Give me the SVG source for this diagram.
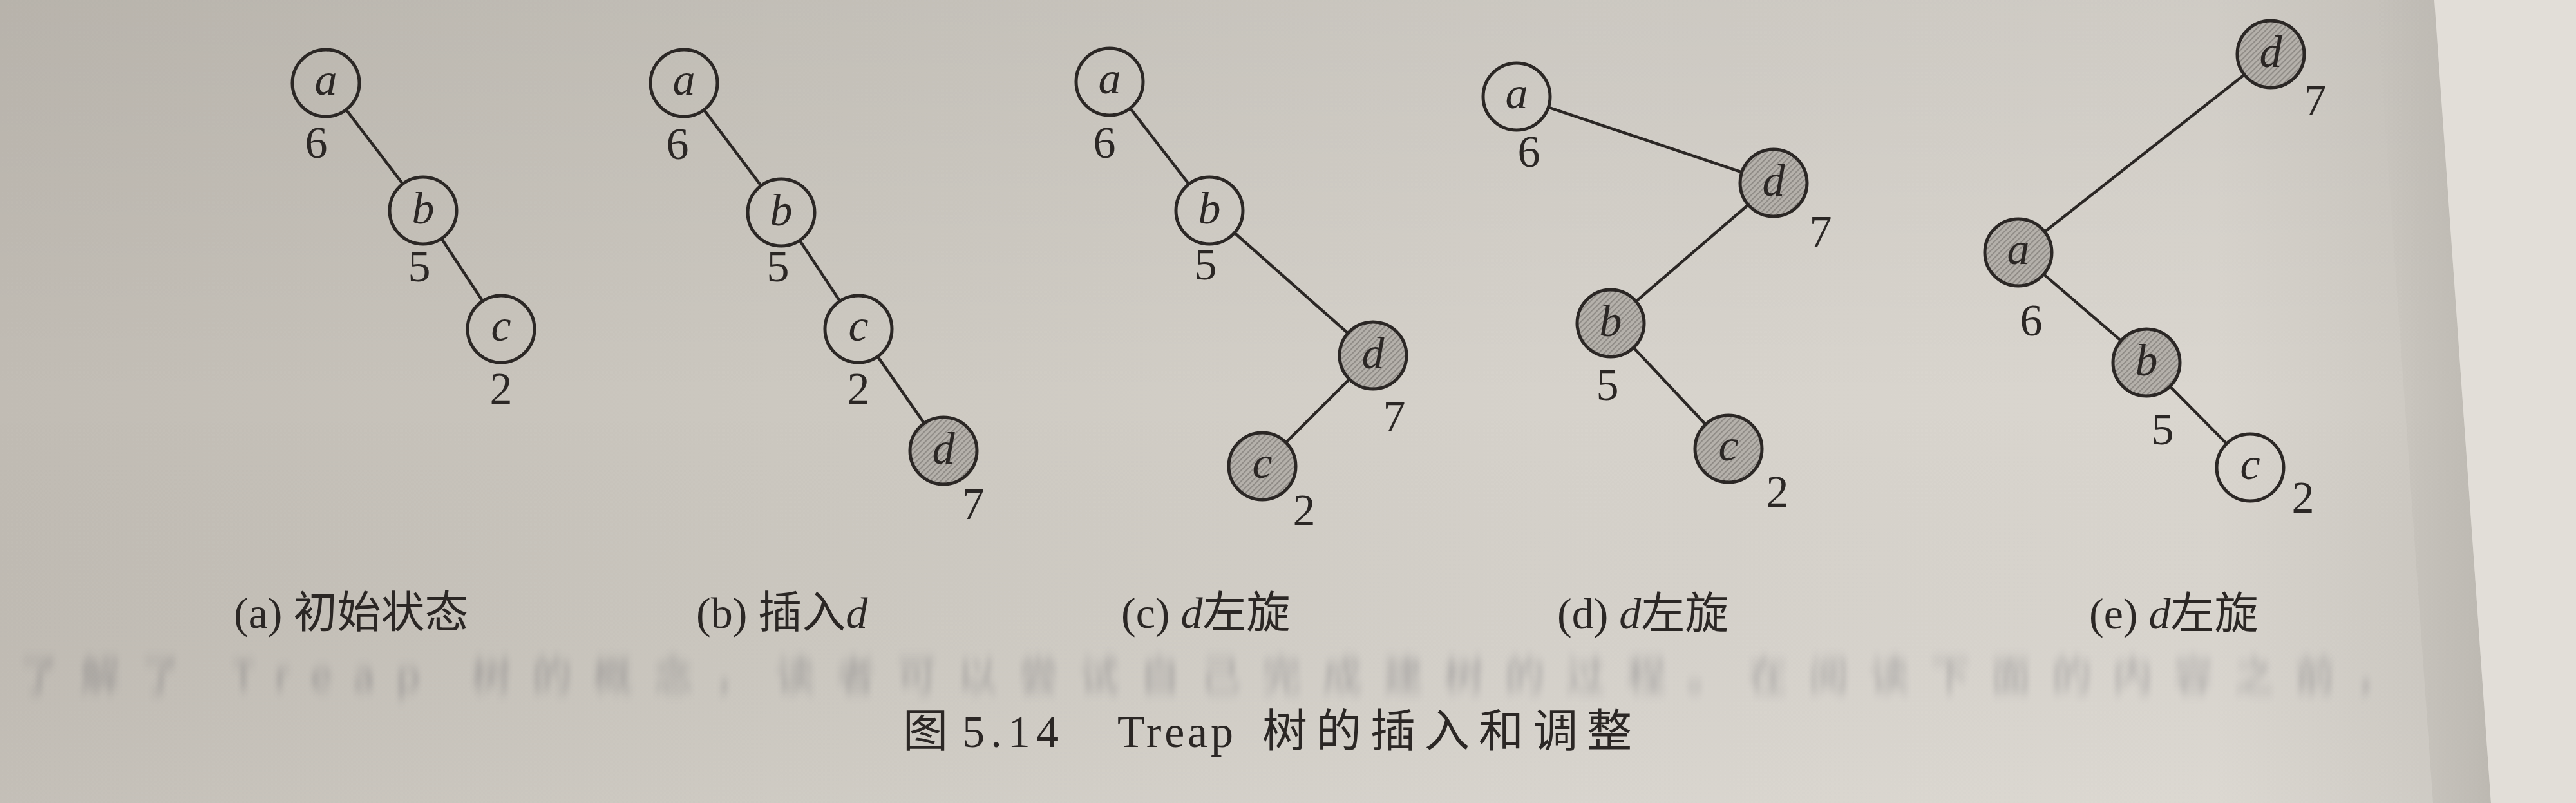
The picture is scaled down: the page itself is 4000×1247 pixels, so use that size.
<svg xmlns="http://www.w3.org/2000/svg" width="4000" height="1247" viewBox="0 0 4000 1247">
<defs>
  <linearGradient id="paper" x1="0" y1="0" x2="1" y2="0">
    <stop offset="0" stop-color="#c1bcb4"/>
    <stop offset="0.3" stop-color="#ccc8c0"/>
    <stop offset="0.6" stop-color="#d6d2cb"/>
    <stop offset="0.86" stop-color="#dad6cf"/>
    <stop offset="0.94" stop-color="#cdc9c2"/>
  </linearGradient>
  <linearGradient id="vshade" x1="0" y1="0" x2="0" y2="1">
    <stop offset="0" stop-color="#000" stop-opacity="0.05"/>
    <stop offset="0.5" stop-color="#000" stop-opacity="0"/>
    <stop offset="1" stop-color="#fff" stop-opacity="0.05"/>
  </linearGradient>
  <linearGradient id="edgeShade" x1="0" y1="0" x2="1" y2="0">
    <stop offset="0" stop-color="#b8b4ad" stop-opacity="0"/>
    <stop offset="1" stop-color="#b8b4ad" stop-opacity="0.8"/>
  </linearGradient>
  <pattern id="hatch" width="6" height="6" patternUnits="userSpaceOnUse" patternTransform="rotate(45)">
    <rect width="6" height="6" fill="#b5b1ab"/>
    <line x1="1" y1="0" x2="1" y2="6" stroke="#908c87" stroke-width="2.2"/>
  </pattern>
  <filter id="blur" x="-5%" y="-50%" width="110%" height="200%">
    <feGaussianBlur stdDeviation="4 9"/>
  </filter>
</defs>
<style>
  .n circle{stroke:#2b2725;stroke-width:5;fill:none}
  .n.s circle{fill:url(#hatch)}
  .lt{font-family:"Liberation Serif",serif;font-style:italic;font-size:70px;fill:#2b2725;text-anchor:middle}
  .pr{font-family:"Liberation Serif",serif;font-size:70px;fill:#2b2725;text-anchor:middle}
  #edges line{stroke:#2b2725;stroke-width:4.5}
  .cap{font-family:"Liberation Serif","Noto Sans CJK SC",sans-serif;font-size:68px;fill:#2b2725}
  .main{font-family:"Liberation Serif","Noto Sans CJK SC",sans-serif;font-size:70px;fill:#2b2725}
  .it{font-style:italic}
</style>

<!-- paper -->
<rect width="4000" height="1247" fill="url(#paper)"/>
<rect width="4000" height="1247" fill="url(#vshade)"/>
<polygon points="3690,0 3780,0 3868,1247 3778,1247" fill="url(#edgeShade)"/>
<polygon points="3780,0 4000,0 4000,1247 3868,1247" fill="#e2ded8"/>

<!-- faint blurred body text line -->
<text x="30" y="1072" font-family="'Noto Sans CJK SC',sans-serif" font-size="62" fill="#4a4953" opacity="0.3" filter="url(#blur)" textLength="3690" lengthAdjust="spacing">了解了 Treap 树的概念，读者可以尝试自己完成建树的过程。在阅读下面的内容之前，</text>

<g id="edges">
  <!-- panel a -->
  <line x1="537.5" y1="170.4" x2="625.5" y2="285.6"/>
  <line x1="685.6" y1="370.5" x2="749.4" y2="467.5"/>
  <!-- panel b -->
  <line x1="1093.2" y1="170.6" x2="1181.8" y2="288.4"/>
  <line x1="1241.7" y1="373.3" x2="1304.3" y2="467.7"/>
  <line x1="1362.8" y1="553.6" x2="1435.2" y2="657.4"/>
  <!-- panel c -->
  <line x1="1754.9" y1="168.1" x2="1846.1" y2="285.9"/>
  <line x1="1916.9" y1="361.5" x2="2093.1" y2="517.5"/>
  <line x1="2095.2" y1="588.8" x2="1996.8" y2="687.2"/>
  <!-- panel d -->
  <line x1="2404.3" y1="166.6" x2="2704.7" y2="267.4"/>
  <line x1="2714.6" y1="318.0" x2="2540.4" y2="468.0"/>
  <line x1="2536.6" y1="539.9" x2="2648.4" y2="659.1"/>
  <!-- panel e -->
  <line x1="3485.1" y1="116.1" x2="3174.9" y2="359.9"/>
  <line x1="3173.4" y1="425.9" x2="3293.6" y2="529.1"/>
  <line x1="3369.5" y1="600.0" x2="3457.5" y2="689.0"/>
</g>

<!-- panel (a) -->
<g id="pa-a" class="n"><circle cx="506" cy="129" r="52"/><text class="lt" x="506" y="147">a</text><text class="pr" x="491" y="245">6</text></g>
<g id="pa-b" class="n"><circle cx="657" cy="327" r="52"/><text class="lt" x="657" y="347">b</text><text class="pr" x="651" y="437">5</text></g>
<g id="pa-c" class="n"><circle cx="778" cy="511" r="52"/><text class="lt" x="778" y="529">c</text><text class="pr" x="778" y="627">2</text></g>

<!-- panel (b) -->
<g id="pb-a" class="n"><circle cx="1062" cy="129" r="52"/><text class="lt" x="1062" y="147">a</text><text class="pr" x="1052" y="247">6</text></g>
<g id="pb-b" class="n"><circle cx="1213" cy="330" r="52"/><text class="lt" x="1213" y="350">b</text><text class="pr" x="1208" y="437">5</text></g>
<g id="pb-c" class="n"><circle cx="1333" cy="511" r="52"/><text class="lt" x="1333" y="529">c</text><text class="pr" x="1333" y="627">2</text></g>
<g id="pb-d" class="n s"><circle cx="1465" cy="700" r="52"/><text class="lt" x="1465" y="720">d</text><text class="pr" x="1511" y="806">7</text></g>

<!-- panel (c) -->
<g id="pc-a" class="n"><circle cx="1723" cy="127" r="52"/><text class="lt" x="1723" y="145">a</text><text class="pr" x="1715" y="245">6</text></g>
<g id="pc-b" class="n"><circle cx="1878" cy="327" r="52"/><text class="lt" x="1878" y="347">b</text><text class="pr" x="1872" y="434">5</text></g>
<g id="pc-d" class="n s"><circle cx="2132" cy="552" r="52"/><text class="lt" x="2132" y="572">d</text><text class="pr" x="2165" y="670">7</text></g>
<g id="pc-c" class="n s"><circle cx="1960" cy="724" r="52"/><text class="lt" x="1960" y="742">c</text><text class="pr" x="2025" y="816">2</text></g>

<!-- panel (d) -->
<g id="pd-a" class="n"><circle cx="2355" cy="150" r="52"/><text class="lt" x="2355" y="168">a</text><text class="pr" x="2374" y="259">6</text></g>
<g id="pd-d" class="n s"><circle cx="2754" cy="284" r="52"/><text class="lt" x="2754" y="304">d</text><text class="pr" x="2827" y="383">7</text></g>
<g id="pd-b" class="n s"><circle cx="2501" cy="502" r="52"/><text class="lt" x="2501" y="522">b</text><text class="pr" x="2496" y="621">5</text></g>
<g id="pd-c" class="n s"><circle cx="2684" cy="697" r="52"/><text class="lt" x="2684" y="715">c</text><text class="pr" x="2760" y="787">2</text></g>

<!-- panel (e) -->
<g id="pe-d" class="n s"><circle cx="3526" cy="84" r="52"/><text class="lt" x="3526" y="104">d</text><text class="pr" x="3595" y="179">7</text></g>
<g id="pe-a" class="n s"><circle cx="3134" cy="392" r="52"/><text class="lt" x="3134" y="410">a</text><text class="pr" x="3154" y="521">6</text></g>
<g id="pe-b" class="n s"><circle cx="3333" cy="563" r="52"/><text class="lt" x="3333" y="583">b</text><text class="pr" x="3358" y="690">5</text></g>
<g id="pe-c" class="n"><circle cx="3494" cy="726" r="52"/><text class="lt" x="3494" y="744">c</text><text class="pr" x="3576" y="796">2</text></g>

<!-- sub-captions -->
<g id="captions">
  <text class="cap" x="363" y="975">(a) 初始状态</text>
  <text class="cap" x="1081" y="975">(b) 插入<tspan class="it">d</tspan></text>
  <text class="cap" x="1741" y="975">(c) <tspan class="it">d</tspan>左旋</text>
  <text class="cap" x="2418" y="976">(d) <tspan class="it">d</tspan>左旋</text>
  <text class="cap" x="3244" y="976">(e) <tspan class="it">d</tspan>左旋</text>
  <text class="main" y="1160"><tspan x="1402">图</tspan><tspan x="1494" textLength="150" lengthAdjust="spacing">5.14</tspan><tspan x="1735" textLength="180" lengthAdjust="spacing">Treap</tspan><tspan x="1960" letter-spacing="14">树的插入和调整</tspan></text>
</g>
</svg>
